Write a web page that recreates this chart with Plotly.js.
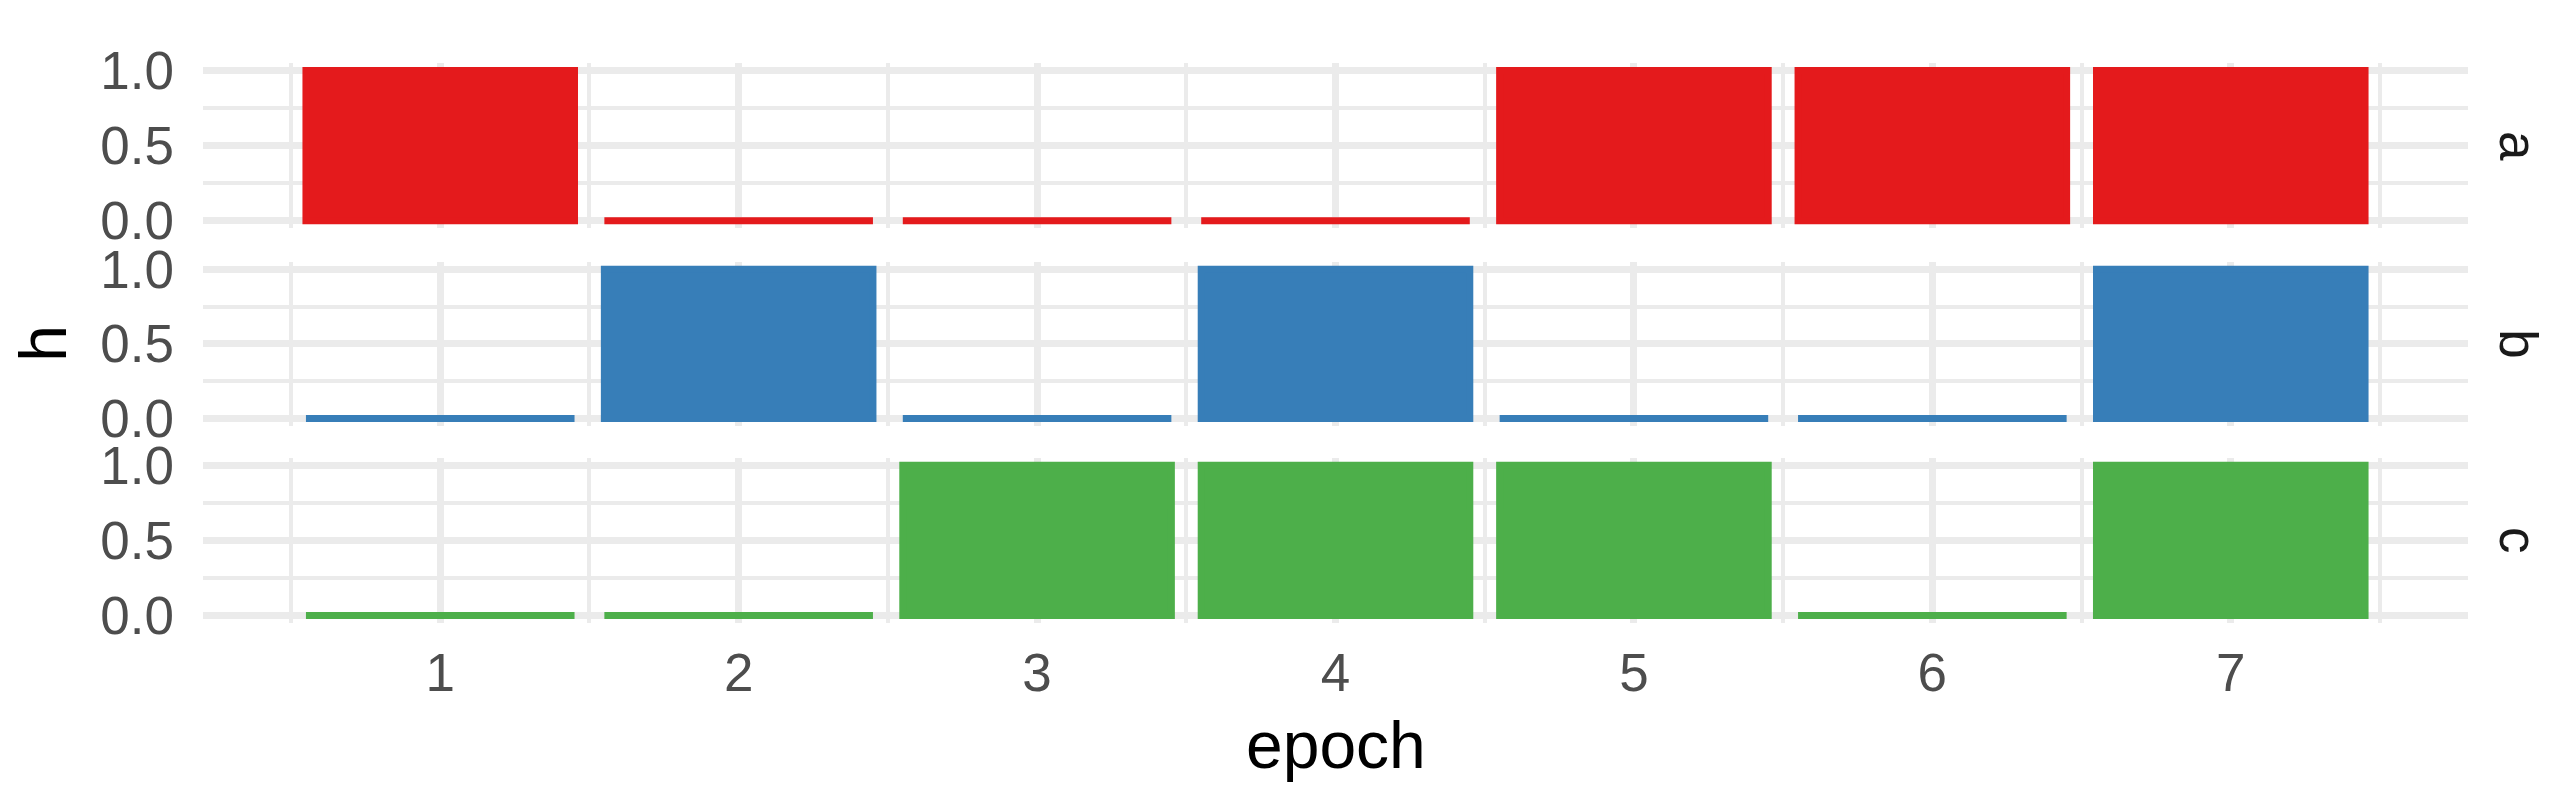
<!DOCTYPE html>
<html>
<head>
<meta charset="utf-8">
<script src="https://cdn.plot.ly/plotly-3.0.1.min.js"></script>
<style>
  html, body { margin: 0; padding: 0; background: #ffffff; }
  #chart { width: 2559px; height: 805px; }
</style>
</head>
<body>
<div id="chart"></div>
<script>
// ---- data ----
const epochs = [1, 2, 3, 4, 5, 6, 7];
const facetLabels = ['a', 'b', 'c'];
const hA = [1, 0, 0, 0, 1, 1, 1];
const hB = [0, 1, 0, 1, 0, 0, 1];
const hC = [0, 0, 1, 1, 1, 0, 1];
const yTickVals = [0, 0.5, 1];
const yTickText = ['0.0', '0.5', '1.0'];
const yMinorVals = [0.25, 0.75];
const xMinorVals = [0.5, 1.5, 2.5, 3.5, 4.5, 5.5, 6.5, 7.5];
const xTitle = 'epoch';
const yTitle = 'h';

// ---- style ----
const colors = ['#E41A1C', '#377EB8', '#4DAF4A'];
const FONT = '"Liberation Sans", Arial, sans-serif';
const GRID = '#EBEBEB';
const seriesValues = [hA, hB, hC];
const domains = [[0.705, 1.0], [0.352, 0.645], [0.0, 0.295]];

const traces = seriesValues.map((vals, i) => ({
  type: 'bar',
  x: epochs,
  y: vals,
  width: 0.9,
  xaxis: i === 0 ? 'x' : 'x' + (i + 1),
  yaxis: i === 0 ? 'y' : 'y' + (i + 1),
  marker: { color: colors[i], line: { color: colors[i], width: 7 } },
  showlegend: false,
  hoverinfo: 'x+y'
}));

const layout = {
  width: 2559,
  height: 805,
  margin: { l: 203, r: 91, t: 63, b: 182 },
  paper_bgcolor: '#ffffff',
  plot_bgcolor: '#ffffff',
  font: { family: FONT, size: 53, color: '#4D4D4D' },
  showlegend: false,
  bargap: 0,
  annotations: []
};

for (let i = 0; i < 3; i++) {
  const xk = i === 0 ? 'xaxis' : 'xaxis' + (i + 1);
  const yk = i === 0 ? 'yaxis' : 'yaxis' + (i + 1);
  const yref = i === 0 ? 'y' : 'y' + (i + 1);
  const xref = i === 0 ? 'x' : 'x' + (i + 1);
  layout[xk] = {
    anchor: yref,
    domain: [0, 1],
    range: [0.205, 7.795],
    tickmode: 'array',
    tickvals: epochs,
    ticktext: epochs.map(String),
    showticklabels: i === 2,
    ticks: '',
    ticklabelstandoff: 14,
    showgrid: true,
    gridcolor: GRID,
    gridwidth: 7,
    zeroline: false,
    showline: false,
    tickfont: { family: FONT, size: 53, color: '#4D4D4D' },
    minor: { tickmode: 'array', tickvals: xMinorVals, showgrid: true, gridcolor: GRID, gridwidth: 4, ticks: '' }
  };
  if (i > 0) layout[xk].matches = 'x';
  layout[yk] = {
    anchor: xref,
    domain: domains[i],
    range: [-0.05, 1.05],
    tickmode: 'array',
    tickvals: yTickVals,
    ticktext: yTickText,
    ticks: '',
    ticklabelstandoff: 28,
    showgrid: true,
    gridcolor: GRID,
    gridwidth: 7,
    zeroline: false,
    showline: false,
    tickfont: { family: FONT, size: 53, color: '#4D4D4D' },
    minor: { tickmode: 'array', tickvals: yMinorVals, showgrid: true, gridcolor: GRID, gridwidth: 4, ticks: '' }
  };
  layout.annotations.push({
    text: facetLabels[i],
    xref: 'paper', yref: yref + ' domain',
    x: 1.0223, y: 0.5,
    xanchor: 'center', yanchor: 'middle',
    textangle: 90,
    showarrow: false,
    font: { family: FONT, size: 53, color: '#1A1A1A' }
  });
}

layout.annotations.push({
  text: xTitle,
  xref: 'paper', yref: 'paper',
  x: 0.5, y: -0.218,
  xanchor: 'center', yanchor: 'middle',
  showarrow: false,
  font: { family: FONT, size: 66, color: '#000000' }
});
layout.annotations.push({
  text: yTitle,
  xref: 'paper', yref: 'paper',
  x: -0.0707, y: 0.5,
  xanchor: 'center', yanchor: 'middle',
  textangle: -90,
  showarrow: false,
  font: { family: FONT, size: 66, color: '#000000' }
});

Plotly.newPlot('chart', traces, layout, { staticPlot: true, displayModeBar: false });
</script>
</body>
</html>
